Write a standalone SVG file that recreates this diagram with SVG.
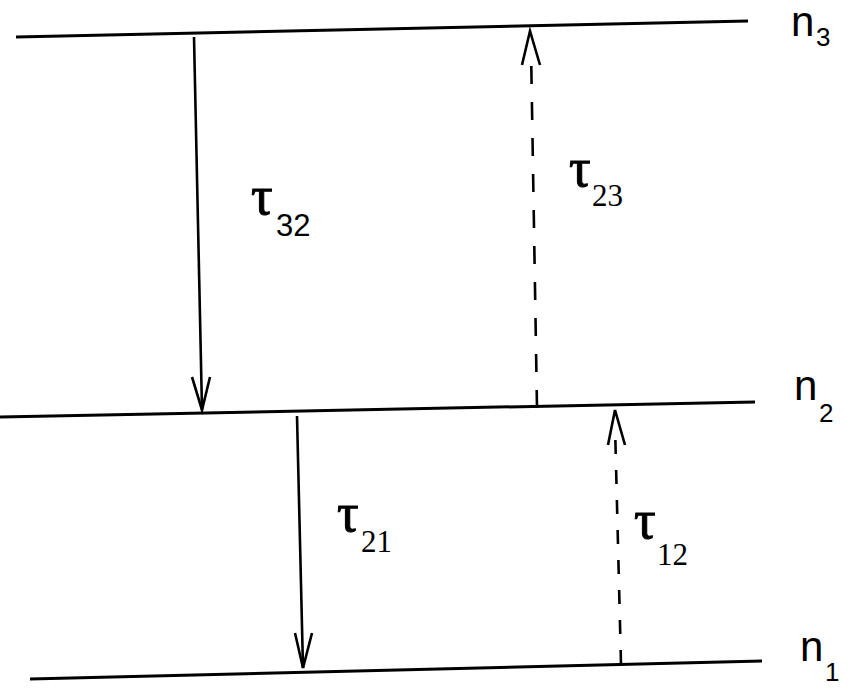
<svg xmlns="http://www.w3.org/2000/svg" width="852" height="692" viewBox="0 0 852 692">
<style>
.lvl{stroke:#000;stroke-width:3;fill:none;stroke-linecap:butt}
.sh{stroke:#000;stroke-width:2.6;fill:none}
.hd{stroke:#000;stroke-width:2.6;fill:none;stroke-linejoin:miter}
.tau{font-family:"Liberation Serif",serif;font-size:54px;fill:#000;stroke:#000;stroke-width:1}
.sub{font-family:"Liberation Serif",serif;font-size:31px;fill:#000}
.subs{font-family:"Liberation Sans",sans-serif;font-size:31px;fill:#000}
.n{font-family:"Liberation Sans",sans-serif;font-size:42px;fill:#000}
.ns{font-family:"Liberation Sans",sans-serif;font-size:26px;fill:#000}
</style>
<rect width="852" height="692" fill="#fff"/>
<g id="level-n3">
<line class="lvl" x1="16" y1="37" x2="748" y2="21"/>
<text class="n" x="791" y="36">n</text><text class="ns" x="816" y="46">3</text>
</g>
<g id="level-n2">
<line class="lvl" x1="0" y1="417" x2="755" y2="402"/>
<text class="n" x="794" y="400">n</text><text class="ns" x="819" y="422">2</text>
</g>
<g id="level-n1">
<line class="lvl" x1="30" y1="679" x2="762" y2="661"/>
<text class="n" x="800" y="661">n</text><text class="ns" x="825" y="681">1</text>
</g>
<g id="connectors">
<g id="t32">
<line class="sh" x1="194" y1="37" x2="202" y2="410"/>
<polyline class="hd" points="192,377 202,410 210,377"/>
</g>
<g id="t23">
<line class="sh" x1="537" y1="408" x2="531" y2="48" stroke-dasharray="18 18"/>
<polyline class="hd" points="522,65 530,31 540,65"/>
</g>
<g id="t21">
<line class="sh" x1="297" y1="416" x2="303" y2="668"/>
<polyline class="hd" points="295,633 303,668 312,633"/>
</g>
<g id="t12">
<line class="sh" x1="621" y1="664" x2="615" y2="425" stroke-dasharray="14 16"/>
<polyline class="hd" points="608,445 615,410 625,445"/>
</g>
</g>
<g id="labels">
<text class="tau" x="251" y="214">τ</text><text class="subs" x="276" y="236">32</text>
<text class="tau" x="569" y="186">τ</text><text class="sub" x="592" y="206">23</text>
<text class="tau" x="337" y="531">τ</text><text class="sub" x="361" y="552">21</text>
<text class="tau" x="634" y="538">τ</text><text class="sub" x="657" y="565">12</text>
</g>
</svg>
